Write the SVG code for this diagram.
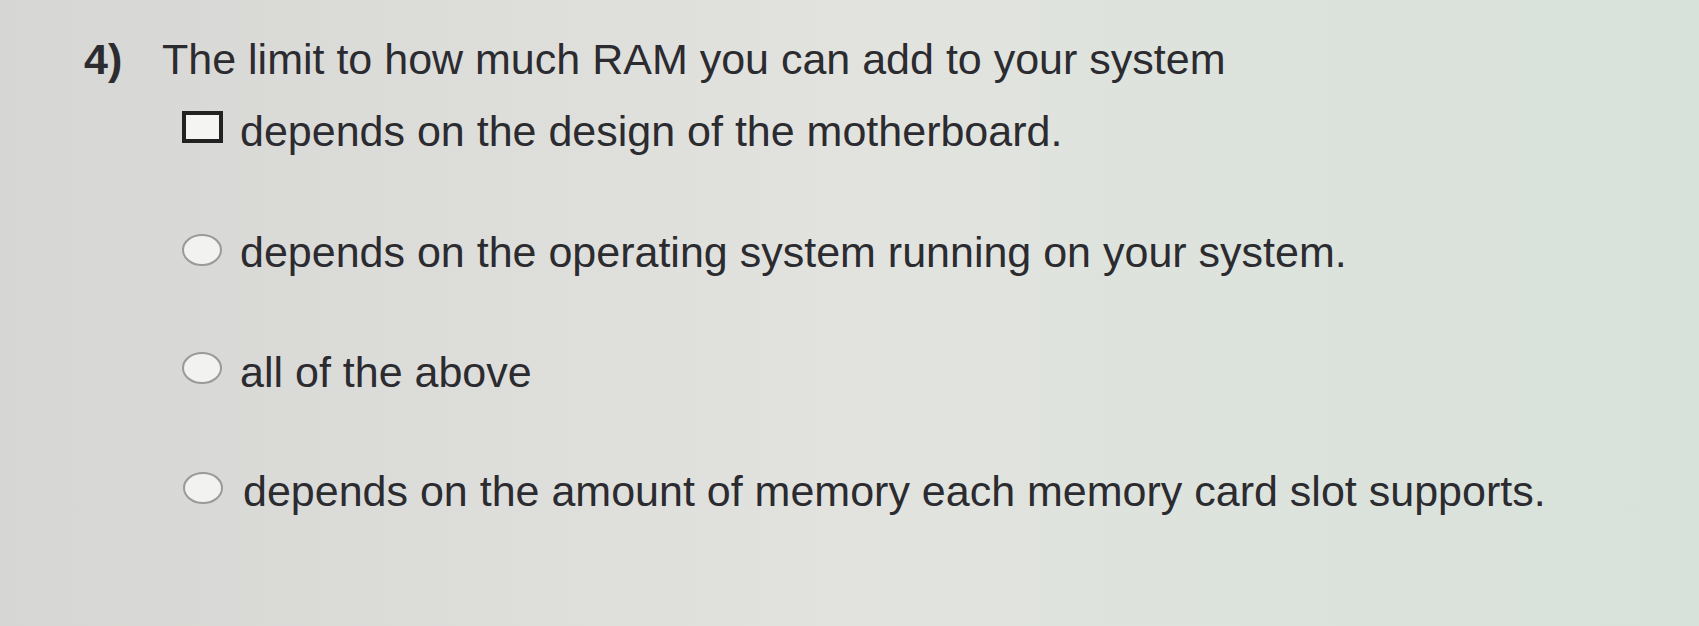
<svg xmlns="http://www.w3.org/2000/svg" width="1699" height="626" viewBox="0 0 1699 626">
<defs>
<linearGradient id="bg" x1="0" y1="0" x2="1" y2="0">
<stop offset="0" stop-color="#d6d6d4"/><stop offset="0.5" stop-color="#e2e3df"/><stop offset="1" stop-color="#d7e2da"/>
</linearGradient>
<style>
text{font-family:"Liberation Sans",Arial,sans-serif;font-size:43px;fill:#2b2b30}
.r{fill:#f2f2f0;stroke:#9a9a9c;stroke-width:2}
</style>
</defs>
<rect width="1699" height="626" fill="url(#bg)"/>
<g id="q"><text x="84" y="74" font-weight="bold" font-size="38">4)</text><text x="162" y="74" font-size="37.5">The limit to how much RAM you can add to your system</text></g>
<g id="o1"><rect x="184" y="113" width="37" height="28" fill="#f4f4f2" stroke="#222" stroke-width="4"/><text x="240" y="146" font-size="42.3">depends on the design of the motherboard.</text></g>
<g id="o2"><ellipse class="r" cx="202" cy="250" rx="19" ry="15"/><text x="240" y="267" font-size="43.4">depends on the operating system running on your system.</text></g>
<g id="o3"><ellipse class="r" cx="202" cy="368" rx="19" ry="15"/><text x="240" y="387">all of the above</text></g>
<g id="o4"><ellipse class="r" cx="203" cy="488" rx="19" ry="15"/><text x="243" y="506" font-size="44">depends on the amount of memory each memory card slot supports.</text></g>
<g id="connectors"/>
</svg>
